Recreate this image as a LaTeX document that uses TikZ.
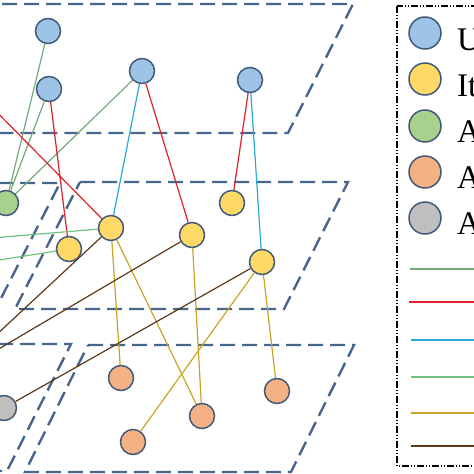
\documentclass[tikz,border=0pt]{standalone}
\usepackage{fontspec}
\setmainfont{Liberation Serif}
\usepackage{xcolor}
\definecolor{userblue}{HTML}{9DC3E6}
\definecolor{itemyellow}{HTML}{FFD966}
\definecolor{attrgreen}{HTML}{A9D18E}
\definecolor{attrorange}{HTML}{F4B183}
\definecolor{attrgray}{HTML}{BFBFBF}
\definecolor{rim}{HTML}{42597A}
\definecolor{planeblue}{HTML}{46668C}
\definecolor{linkA}{HTML}{76A97C}
\definecolor{linkB}{HTML}{E0202A}
\definecolor{linkC}{HTML}{2AA8D8}
\definecolor{linkD}{HTML}{72C27E}
\definecolor{linkE}{HTML}{C9A227}
\definecolor{linkF}{HTML}{5A3A1A}

\begin{document}
\begin{tikzpicture}[x=1pt,y=-1pt,
		vx/.style={circle,draw=rim,line width=1.5pt,inner sep=0pt,minimum size=25pt},
		key/.style={circle,draw=rim,line width=1.5pt,inner sep=0pt,minimum size=32pt},
		plane/.style={planeblue,line width=2.4pt,dash pattern=on 15pt off 7pt},
		link/.style={line width=1.2pt},
		keyline/.style={line width=2.6pt},
		keytext/.style={anchor=base west,inner sep=0pt,font=\fontsize{33}{40}\selectfont}]
		\useasboundingbox (0,0) rectangle (474,474);
		\draw [plane] (-20,4) -- (353,4) -- (288,133) -- (-85,133) -- cycle;
		\draw [plane] (-200,183) -- (60,183) -- (-5,310) -- (-265,310) -- cycle;
		\draw [plane] (80,182) -- (348,182) -- (284,309) -- (15,309) -- cycle;
		\draw [plane] (-200,344) -- (71,344) -- (7,471) -- (-264,471) -- cycle;
		\draw [plane] (88,345) -- (354,345) -- (291,472) -- (25,472) -- cycle;
		\node [vx,fill=userblue] (u1) at (48,31) {};
		\node [vx,fill=userblue] (u2) at (49,89) {};
		\node [vx,fill=userblue] (u3) at (142,71) {};
		\node [vx,fill=userblue] (u4) at (250,80) {};
		\node [vx,fill=attrgreen] (a1) at (6,203) {};
		\node [vx,fill=itemyellow] (i1) at (232,203) {};
		\node [vx,fill=itemyellow] (i2) at (111,228) {};
		\node [vx,fill=itemyellow] (i3) at (69,249) {};
		\node [vx,fill=itemyellow] (i4) at (192,235) {};
		\node [vx,fill=itemyellow] (i5) at (262,262) {};
		\node [vx,fill=attrorange] (o1) at (121,378) {};
		\node [vx,fill=attrorange] (o2) at (202,416) {};
		\node [vx,fill=attrorange] (o3) at (133,442) {};
		\node [vx,fill=attrorange] (o4) at (277,391) {};
		\node [vx,fill=attrgray] (g1) at (4,408) {};
		\coordinate (r0) at (-20,95);
		\coordinate (d2) at (-20,239);
		\coordinate (d3) at (-20,263);
		\coordinate (f2) at (-20,350);
		\coordinate (f4) at (-20,360);
		\draw [link,linkA] (a1) -- (u1);
		\draw [link,linkA] (a1) -- (u2);
		\draw [link,linkA] (a1) -- (u3);
		\draw [link,linkB] (u2) -- (i3);
		\draw [link,linkB] (u3) -- (i4);
		\draw [link,linkB] (u4) -- (i1);
		\draw [link,linkB] (r0) -- (i2);
		\draw [link,linkC] (u3) -- (i2);
		\draw [link,linkC] (u4) -- (i5);
		\draw [link,linkD] (d2) -- (i2);
		\draw [link,linkD] (d3) -- (i3);
		\draw [link,linkE] (i2) -- (o1);
		\draw [link,linkE] (i2) -- (o2);
		\draw [link,linkE] (i4) -- (o2);
		\draw [link,linkE] (i5) -- (o4);
		\draw [link,linkE] (i5) -- (o3);
		\draw [link,linkF] (i2) -- (f2);
		\draw [link,linkF] (i4) -- (f4);
		\draw [link,linkF] (i5) -- (g1);
		\draw [line width=1.4pt,dash pattern=on 7pt off 2pt on 1pt off 2pt on 1pt off 2pt] (397,6) rectangle (540,466);
		\node [key,fill=userblue] (k1) at (425,33) {};
		\node [key,fill=itemyellow] (k2) at (425,79) {};
		\node [key,fill=attrgreen] (k3) at (425,126) {};
		\node [key,fill=attrorange] (k4) at (425,172) {};
		\node [key,fill=attrgray] (k5) at (425,218) {};
		\node [keytext] (t1) at (457,50) {U};
		\node [keytext] (t2) at (457,96) {It};
		\node [keytext] (t3) at (457,142) {A};
		\node [keytext] (t4) at (457,188) {A};
		\node [keytext] (t5) at (457,234) {A};
		\coordinate (s1) at (410,269);
		\coordinate (e1) at (490,269);
		\coordinate (s2) at (409,302);
		\coordinate (e2) at (490,302);
		\coordinate (s3) at (411,340);
		\coordinate (e3) at (490,340);
		\coordinate (s4) at (411,377);
		\coordinate (e4) at (490,377);
		\coordinate (s5) at (411,413);
		\coordinate (e5) at (490,413);
		\coordinate (s6) at (411,446);
		\coordinate (e6) at (490,446);
		\draw [keyline,linkA] (s1) -- (e1);
		\draw [keyline,linkB] (s2) -- (e2);
		\draw [keyline,linkC] (s3) -- (e3);
		\draw [keyline,linkD] (s4) -- (e4);
		\draw [keyline,linkE] (s5) -- (e5);
		\draw [keyline,linkF] (s6) -- (e6);
	\end{tikzpicture}
\end{document}
